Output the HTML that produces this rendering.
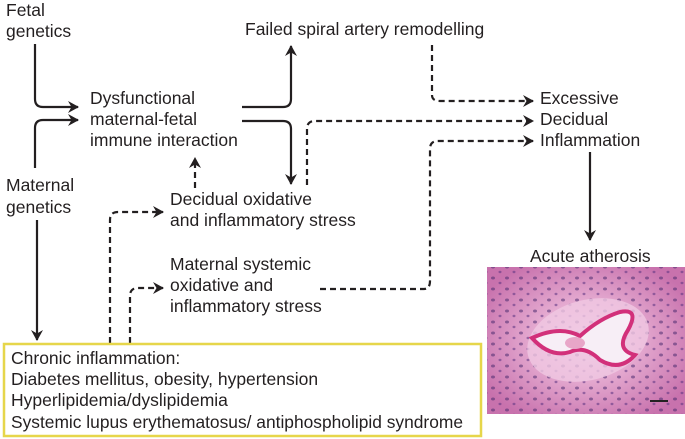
<!DOCTYPE html>
<html><head><meta charset="utf-8"><style>
html,body{margin:0;padding:0;background:#fff;width:685px;height:439px;overflow:hidden}
svg{display:block}
text{font-family:"Liberation Sans",Arial,sans-serif;font-size:17.5px;fill:#231f20}
</style></head><body>
<svg width="685" height="439" viewBox="0 0 685 439" xmlns="http://www.w3.org/2000/svg">
<defs>
<marker id="a" markerWidth="12" markerHeight="12" refX="10" refY="6" orient="auto" markerUnits="userSpaceOnUse">
<path d="M0,0 L11,6 L0,12 L3.5,6 Z" fill="#231f20"/></marker>
<radialGradient id="tis" cx="50%" cy="50%" r="60%">
<stop offset="0" stop-color="#f3dcee"/><stop offset="0.35" stop-color="#e9b3d6"/><stop offset="1" stop-color="#c872ad"/></radialGradient>
<pattern id="dots" width="14" height="11" patternUnits="userSpaceOnUse">
<ellipse cx="3" cy="3" rx="2" ry="1.5" fill="#4a2a6e"/><ellipse cx="10" cy="8" rx="1.5" ry="1.2" fill="#5a3280"/></pattern>
</defs>
<g stroke="#231f20" stroke-width="2.2" fill="none">
<path d="M35,44 V99 Q35,107 43,107 H78" marker-end="url(#a)"/>
<path d="M35,168 V128 Q35,120 43,120 H78" marker-end="url(#a)"/>
<path d="M242,107 H283 Q291,107 291,99 V46" marker-end="url(#a)"/>
<path d="M242,121 H283 Q291,121 291,129 V184" marker-end="url(#a)"/>
<path d="M590,152 V240" marker-end="url(#a)"/>
<path d="M37,220 V340" marker-end="url(#a)"/>
</g>
<g stroke="#231f20" stroke-width="2.2" fill="none" stroke-dasharray="6,4">
<path d="M195,188 V158" marker-end="url(#a)"/>
<path d="M307,185 V129 Q307,121 315,121 H533" marker-end="url(#a)"/>
<path d="M432,45 V95 Q432,101 440,101 H533" marker-end="url(#a)"/>
<path d="M320,289 H424 Q430,289 430,281 V149 Q430,141 438,141 H533" marker-end="url(#a)"/>
<path d="M110,343 V220 Q110,212 118,212 H163" marker-end="url(#a)"/>
<path d="M130,343 V296 Q130,288 138,288 H163" marker-end="url(#a)"/>
</g>
<text x="6" y="16">Fetal</text><text x="6" y="37">genetics</text>
<text x="245" y="35">Failed spiral artery remodelling</text>
<text x="90" y="104">Dysfunctional</text><text x="90" y="125">maternal-fetal</text><text x="90" y="146">immune interaction</text>
<text x="6" y="191">Maternal</text><text x="6" y="213">genetics</text>
<text x="170" y="205">Decidual oxidative</text><text x="170" y="226">and inflammatory stress</text>
<text x="170" y="270">Maternal systemic</text><text x="170" y="291">oxidative and</text><text x="170" y="312">inflammatory stress</text>
<text x="540" y="104">Excessive</text><text x="540" y="125">Decidual</text><text x="540" y="146">Inflammation</text>
<text x="530" y="262">Acute atherosis</text>
<rect x="4" y="344" width="477" height="92" fill="none" stroke="#e6d64a" stroke-width="2.5"/>
<text x="11" y="364">Chronic inflammation:</text>
<text x="11" y="385">Diabetes mellitus, obesity, hypertension</text>
<text x="11" y="406">Hyperlipidemia/dyslipidemia</text>
<text x="11" y="428" textLength="452" lengthAdjust="spacingAndGlyphs">Systemic lupus erythematosus/ antiphospholipid syndrome</text>
<g>
<rect x="487" y="267" width="198" height="147" fill="url(#tis)"/>
<rect x="487" y="267" width="198" height="147" fill="url(#dots)" opacity="0.55"/>
<ellipse cx="588" cy="340" rx="62" ry="40" fill="#f0c8e2" opacity="0.8" transform="rotate(-15 588 340)"/>
<path d="M532,338 Q560,325 580,336 Q600,318 620,312 Q640,308 628,330 Q615,350 635,355 Q620,372 600,360 Q585,345 570,352 Q550,358 532,338 Z" fill="#f7eef6" stroke="#d2307a" stroke-width="4"/>
<ellipse cx="575" cy="343" rx="10" ry="6" fill="#e8a6c8"/>
<rect x="650" y="400" width="18" height="2" fill="#222"/>
</g>
</svg>
</body></html>
